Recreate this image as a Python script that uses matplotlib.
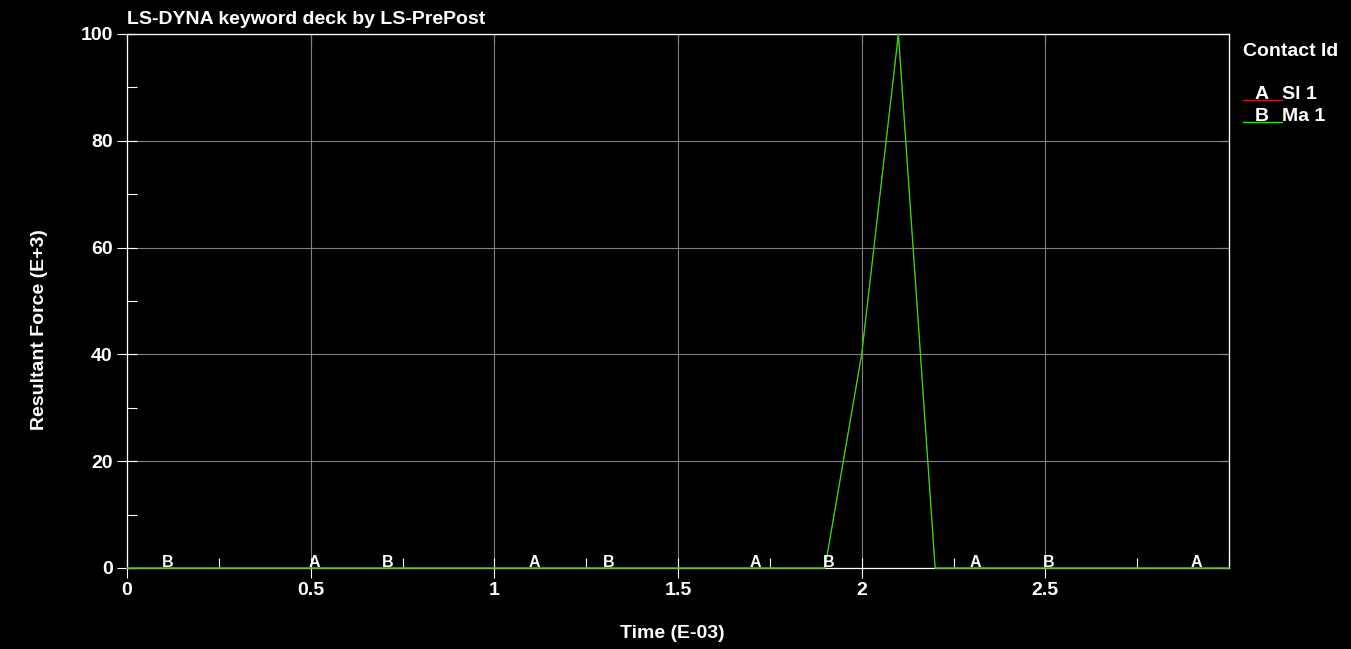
import numpy as np
import matplotlib
matplotlib.use("Agg")
import matplotlib.pyplot as plt
from matplotlib.ticker import MultipleLocator, NullFormatter

# resultant contact force, time in E-03, force in E+3
time = [0.0, 0.1, 0.2, 0.3, 0.4, 0.5, 0.6, 0.7, 0.8, 0.9, 1.0, 1.1, 1.2, 1.3, 1.4, 1.5,
        1.6, 1.7, 1.8, 1.9, 2.0, 2.1, 2.2, 2.3, 2.4, 2.5, 2.6, 2.7, 2.8, 2.9, 3.0]
force_sl = [0, 0, 0, 0, 0, 0, 0, 0, 0, 0, 0, 0, 0, 0, 0, 0,
            0, 0, 0, 0, 40, 100, 0, 0, 0, 0, 0, 0, 0, 0, 0]
force_ma = [0, 0, 0, 0, 0, 0, 0, 0, 0, 0, 0, 0, 0, 0, 0, 0,
            0, 0, 0, 0, 40, 100, 0, 0, 0, 0, 0, 0, 0, 0, 0]
series_names = ["Sl 1", "Ma 1"]
series_letters = ["A", "B"]
series_colors = ["#ff0000", "#00ff00"]
label_times_a = [0.51, 1.11, 1.71, 2.31, 2.91]
label_times_b = [0.11, 0.71, 1.31, 1.91, 2.51]
label_vals_a = [0, 0, 0, 0, 0]
label_vals_b = [0, 0, 0, 0, 0]

plt.rcParams.update({'font.family': 'Liberation Sans', 'font.weight': 'bold'})

W, H = 1351, 649
fig = plt.figure(figsize=(W / 100, H / 100), dpi=100, facecolor='black')
ax = fig.add_axes([127 / W, 1 - 568 / H, (1229 - 127) / W, (568 - 34) / H])
ax.set_facecolor('black')

ax.set_xlim(0, 3.0)
ax.set_ylim(0, 100)
ax.set_xticks([0, 0.5, 1, 1.5, 2, 2.5])
ax.set_xticklabels(['0', '0.5', '1', '1.5', '2', '2.5'])
ax.xaxis.set_minor_locator(MultipleLocator(0.25))
ax.yaxis.set_major_locator(MultipleLocator(20))
ax.yaxis.set_minor_locator(MultipleLocator(10))
ax.grid(True, which='major', color='#808080', lw=0.8)

for s in ax.spines.values():
    s.set_color('white')
    s.set_linewidth(0.9)

ax.tick_params(which='major', direction='inout', length=14.4, width=0.8, color='white',
               labelcolor='white', labelsize=14, pad=3)
ax.tick_params(which='minor', direction='in', length=7.2, width=0.8, color='white')
for lab in ax.get_xticklabels() + ax.get_yticklabels():
    lab.set_fontweight('bold')

# inward major ticks on top and right
sx = ax.secondary_xaxis('top')
sx.set_xticks([0, 0.5, 1, 1.5, 2, 2.5])
sx.xaxis.set_major_formatter(NullFormatter())
sx.tick_params(direction='in', length=7.2, width=0.8, color='white')
sx.spines['top'].set_color('white')
sy = ax.secondary_yaxis('right')
sy.set_yticks([0, 20, 40, 60, 80, 100])
sy.yaxis.set_major_formatter(NullFormatter())
sy.tick_params(direction='in', length=7.2, width=0.8, color='white')
sy.spines['right'].set_color('white')

ax.plot(time, force_sl, color=series_colors[0], lw=0.8, clip_on=False, zorder=3)
ax.plot(time, force_ma, color=series_colors[1], lw=0.8, clip_on=False, zorder=4)

for tx, ty in zip(label_times_a, label_vals_a):
    ax.annotate('A', (tx, ty), xytext=(0, 1), textcoords='offset points', color='white',
                fontsize=11.5, fontweight='bold', ha='center', va='baseline', zorder=5)
for tx, ty in zip(label_times_b, label_vals_b):
    ax.annotate('B', (tx, ty), xytext=(0, 1), textcoords='offset points', color='white',
                fontsize=11.5, fontweight='bold', ha='center', va='baseline', zorder=5)

fig.text(127 / W, 1 - 20 / H, 'LS-DYNA keyword deck by LS-PrePost', color='white',
         fontsize=14, fontweight='bold', ha='left', va='center')
fig.text(672 / W, 1 - 634 / H, 'Time (E-03)', color='white', fontsize=14,
         fontweight='bold', ha='center', va='center')
fig.text(40 / W, 1 - 330 / H, 'Resultant Force (E+3)', color='white', fontsize=14,
         fontweight='bold', ha='center', va='center', rotation=90)

# legend drawn by hand
fig.text(1243 / W, 1 - 51 / H, 'Contact Id', color='white', fontsize=14,
         fontweight='bold', ha='left', va='center')
leg_y = [100, 122]
for i in range(2):
    yy = 1 - leg_y[i] / H
    fig.add_artist(plt.Line2D([1243 / W, 1282 / W], [yy, yy], color=series_colors[i],
                              lw=1.0, transform=fig.transFigure))
    fig.text(1262 / W, yy + 1 / H, series_letters[i], color='white', fontsize=14,
             fontweight='bold', ha='center', va='baseline')
    fig.text(1282 / W, yy + 1 / H, series_names[i], color='white', fontsize=14,
             fontweight='bold', ha='left', va='baseline')

fig.savefig('out.png', dpi=100, facecolor='black')
